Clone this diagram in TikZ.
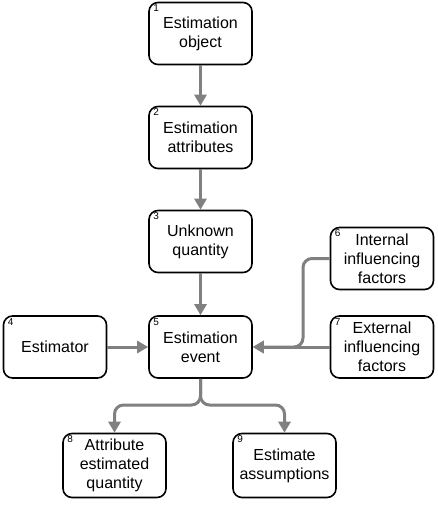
\documentclass[tikz,border=0pt]{standalone}
\usepackage{fontspec}
\setmainfont{Liberation Sans}
\usetikzlibrary{arrows.meta}
\definecolor{conn}{RGB}{128,128,128}
\tikzset{
  box/.style={draw=black, line width=1.6pt, rounded corners=9pt, fill=white,
    minimum width=103pt, minimum height=62pt, align=center, inner sep=2pt,
    font=\fontsize{16}{19}\selectfont},
  num/.style={label={[anchor=north west, inner sep=0pt, xshift=5pt, yshift=-3pt,
    font=\fontsize{10}{10}\selectfont]north west:#1}},
  conn/.style={draw=conn, line width=3pt, -{Triangle[length=11pt,width=12pt]}},
  line/.style={draw=conn, line width=3pt}
}
\begin{document}
\begin{tikzpicture}[x=1pt,y=-1pt]
\useasboundingbox (0,0) rectangle (437,505);
\node[box,num=1] (obj) at (200.5,33.5) {Estimation\\object};
\node[box,num=2] (att) at (200.5,137.5) {Estimation\\attributes};
\node[box,num=3] (unk) at (200.5,241.5) {Unknown\\quantity};
\node[box,num=4] (est) at (55,347) {Estimator};
\node[box,num=5] (evt) at (200.5,347) {Estimation\\event};
\node[box,num=6] (int) at (382,258.5) {Internal\\influencing\\factors};
\node[box,num=7] (ext) at (382,347) {External\\influencing\\factors};
\node[box,num=8,minimum height=64pt] (aeq) at (114.5,465.5) {Attribute\\estimated\\quantity};
\node[box,num=9,minimum height=64pt] (asm) at (284.5,465.5) {Estimate\\assumptions};
\coordinate (merge) at (303,347);
\coordinate (split) at (200.5,405);
\draw[conn] (obj) -- (att);
\draw[conn] (att) -- (unk);
\draw[conn] (unk) -- (evt);
\draw[conn] (est) -- (evt);
\draw[conn] (ext) -- (evt);
\draw[conn, rounded corners=9pt] (int.west) -| (merge) -- (evt.east);
\draw[conn, rounded corners=9pt] (evt.south) |- (aeq.north |- split) -- (aeq.north);
\draw[conn, rounded corners=9pt] (evt.south) |- (asm.north |- split) -- (asm.north);
\end{tikzpicture}
\end{document}
